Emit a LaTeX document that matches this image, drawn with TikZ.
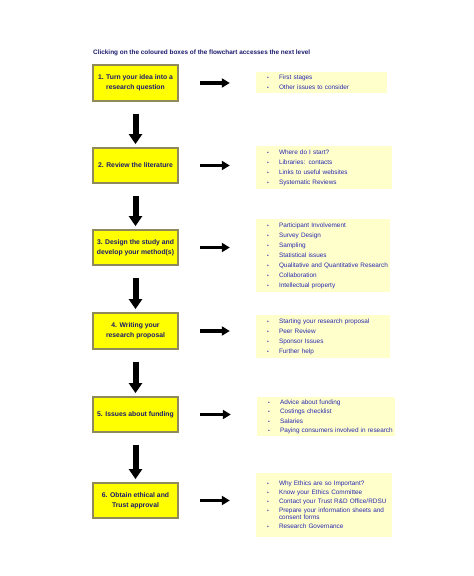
\documentclass[tikz,border=0pt]{standalone}
\usepackage{fontspec}
\setmainfont{Liberation Sans}
\usetikzlibrary{arrows.meta}
\definecolor{navy}{HTML}{1A1A6E}
\definecolor{bultext}{HTML}{2828B0}
\definecolor{boxborder}{HTML}{8E8A5C}
\definecolor{boxfill}{HTML}{FFFF00}
\definecolor{listfill}{HTML}{FFFFCC}
\newcommand{\bul}{{\fontsize{5}{5}\selectfont\textbullet}}
\tikzset{
  stepbox/.style={draw=boxborder, line width=1.8pt, fill=boxfill, minimum width=85pt,
    inner sep=2pt, align=center, text=navy, font=\fontsize{6.8}{10}\selectfont\bfseries},
  listbox/.style={fill=listfill, inner xsep=11pt, inner ysep=0pt, text=bultext,
    font=\fontsize{6.4}{10}\selectfont, align=left},
  downarrow/.style={line width=6pt, -{Triangle[width=13pt,length=10pt]}, shorten <=12pt, shorten >=3pt},
  rightarrow/.style={line width=3.5pt, -{Triangle[width=9pt,length=8pt]}, shorten <=21pt, shorten >=26pt},
}
\newcommand{\blist}[1]{\begin{tabular}{@{}p{12pt}@{}l@{}}#1\end{tabular}}
\begin{document}
\begin{tikzpicture}[x=1pt,y=-1pt]
\useasboundingbox (0,0) rectangle (474,576);
\node[anchor=west, inner sep=0pt, text=navy, font=\fontsize{6.4}{7}\selectfont\bfseries] (title) at (93,53)
  {Clicking on the coloured boxes of the flowchart accesses the next level};

\node[stepbox, minimum height=36pt] (s1) at (135.5,83) {1. Turn your idea into a\\research question};
\node[stepbox, minimum height=35pt] (s2) at (135.5,165.5) {2. Review the literature};
\node[stepbox, minimum height=35pt] (s3) at (135.5,247.5) {3. Design the study and\\develop your method(s)};
\node[stepbox, minimum height=36pt] (s4) at (135.5,331) {4. Writing your\\research proposal};
\node[stepbox, minimum height=35pt] (s5) at (135.5,414.5) {5. Issues about funding};
\node[stepbox, minimum height=35pt] (s6) at (135.5,500.5) {6. Obtain ethical and\\Trust approval};

\node[listbox, text width=109pt, minimum height=21pt] (l1) at (321.5,82.5)
  {\blist{\bul & First stages\\ \bul & Other issues to consider}};
\node[listbox, text width=114pt, minimum height=43pt] (l2) at (324,167.5)
  {\blist{\bul & Where do I start?\\ \bul & Libraries: contacts\\ \bul & Links to useful websites\\ \bul & Systematic Reviews}};
\node[listbox, text width=112pt, minimum height=73pt] (l3) at (323,255.5)
  {\blist{\bul & Participant Involvement\\ \bul & Survey Design\\ \bul & Sampling\\ \bul & Statistical issues\\ \bul & Qualitative and Quantitative Research\\ \bul & Collaboration\\ \bul & Intellectual property}};
\node[listbox, text width=112pt, minimum height=43pt] (l4) at (323,336.5)
  {\blist{\bul & Starting your research proposal\\ \bul & Peer Review\\ \bul & Sponsor Issues\\ \bul & Further help}};
\node[listbox, text width=116pt, minimum height=39pt, font=\fontsize{6.4}{9.5}\selectfont] (l5) at (326,416.5)
  {\blist{\bul & Advice about funding\\ \bul & Costings checklist\\ \bul & Salaries\\ \bul & Paying consumers involved in research}};
\node[listbox, text width=114pt, minimum height=64pt, font=\fontsize{6.4}{9}\selectfont] (l6) at (324,505)
  {\blist{\bul & Why Ethics are so Important?\\ \bul & Know your Ethics Committee\\ \bul & Contact your Trust R\&D Office/RDSU\\ \bul & Prepare your information sheets and\\[-2pt] & consent forms\\ \bul & Research Governance}};

\foreach \a/\b in {s1/s2, s2/s3, s3/s4, s4/s5, s5/s6}
  \draw[downarrow] (\a.south) -- (\b.north);
\foreach \a/\b in {s1/l1, s2/l2, s3/l3, s4/l4, s5/l5, s6/l6}
  \draw[rightarrow] (\a.east) -- (\a.east -| \b.west);
\end{tikzpicture}
\end{document}
